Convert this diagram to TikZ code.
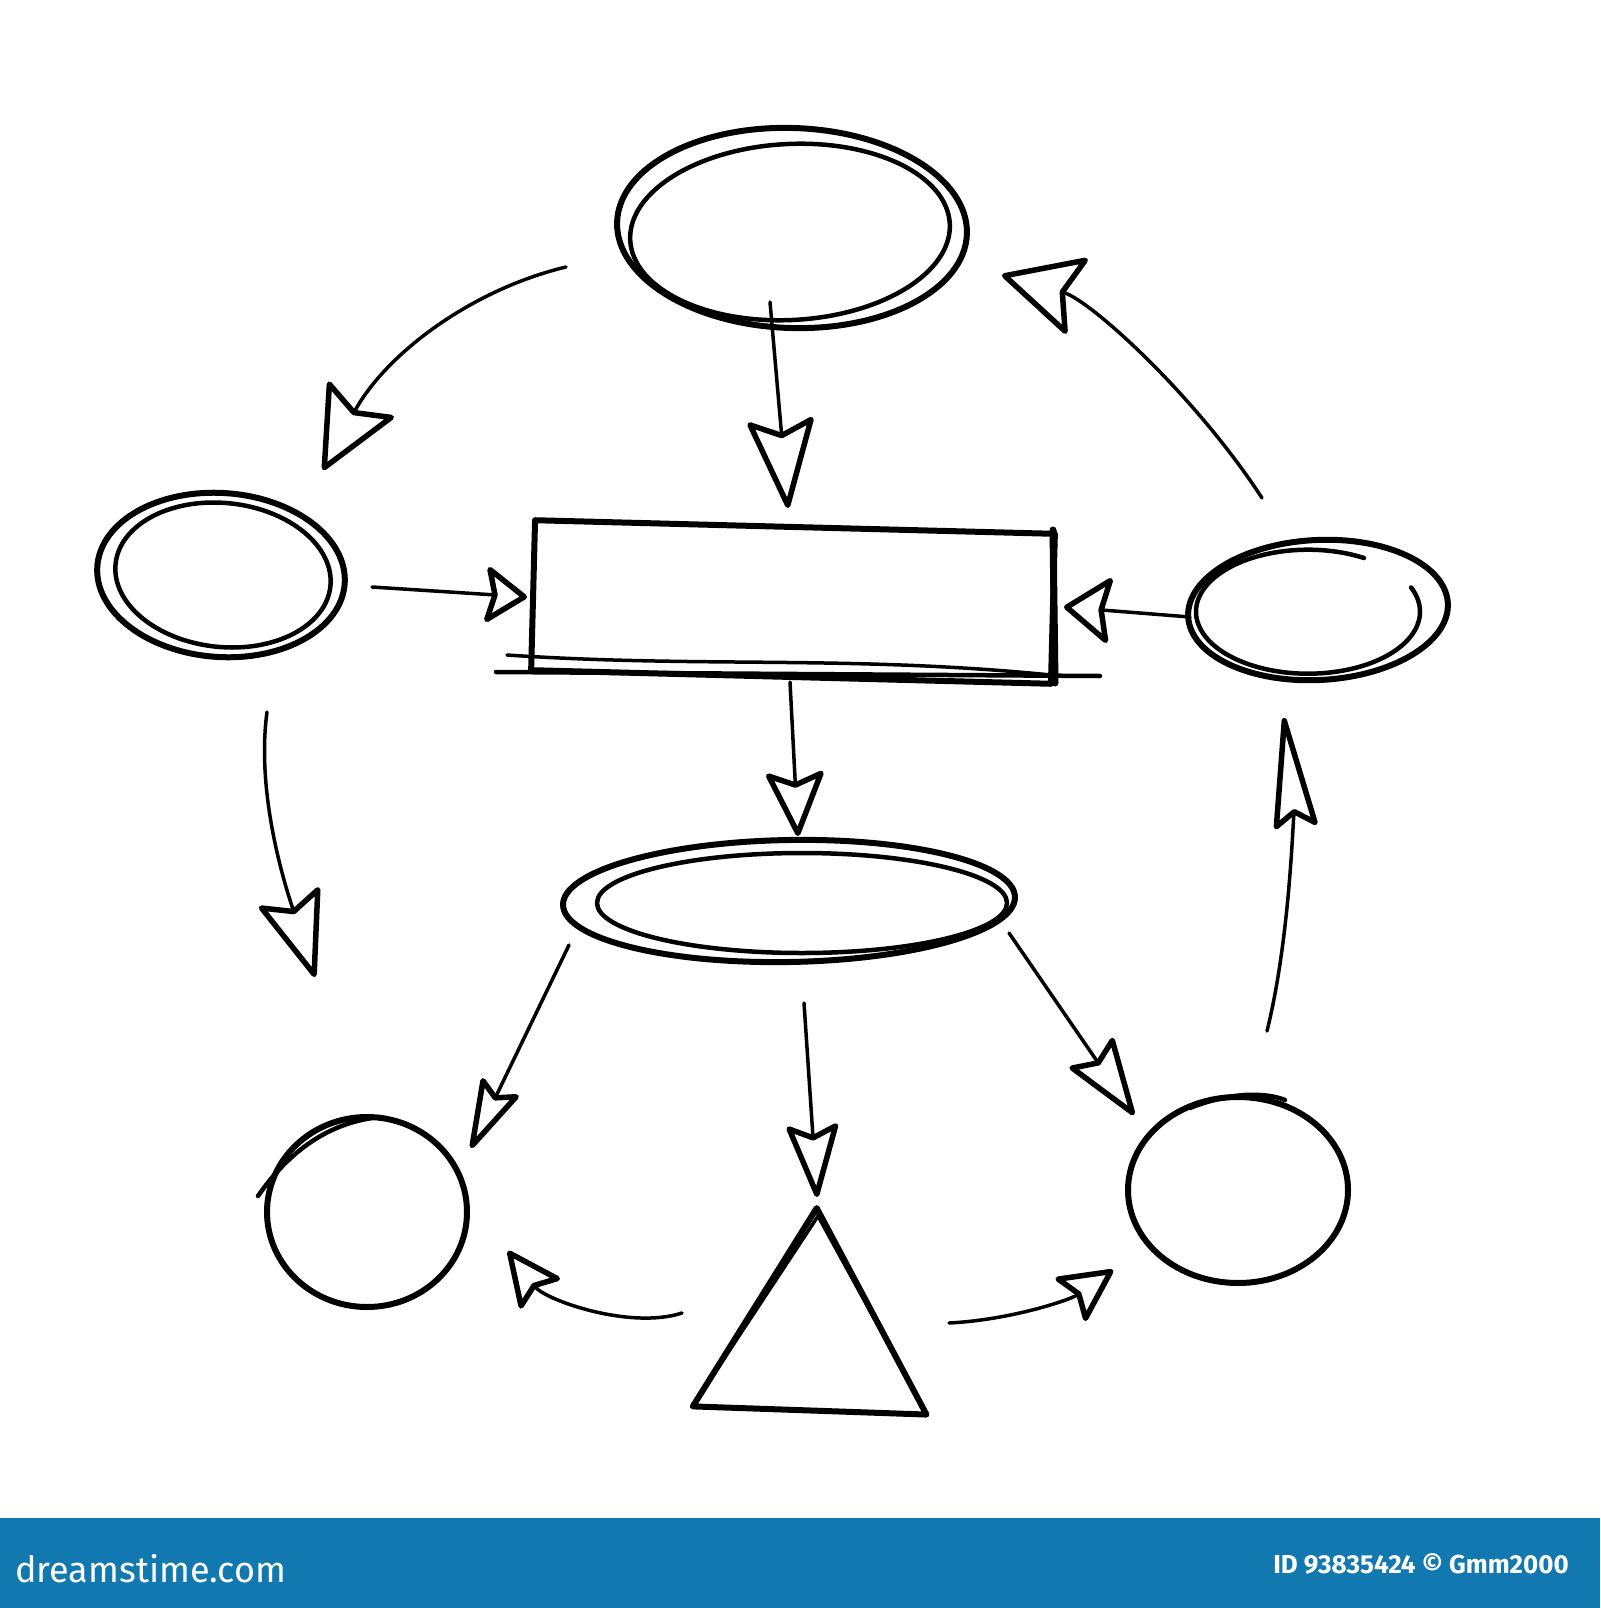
\documentclass[tikz,border=0pt]{standalone}
\usepackage{fontspec}
\usepackage{graphicx}
\setmainfont{Fira Sans}
\usetikzlibrary{shapes.geometric,arrows.meta}
\definecolor{band}{RGB}{18,120,176}
\begin{document}
\begin{tikzpicture}[x=1pt,y=-1pt,line cap=round,line join=round,
  shp/.style={draw,line width=6pt,inner sep=0pt,outer sep=0pt},
  stroke/.style={line width=4.5pt},
  conn/.style={line width=3.5pt},
  hd/.style n args={3}{-{Stealth[open,length=#1pt,width=#2pt,inset=#3pt,line width=5.5pt,round]}}]
\useasboundingbox (0,0) rectangle (1600,1608);
\fill[white] (0,0) rectangle (1600,1518);
\fill[band] (0,1518) rectangle (1600,1608);

% shapes
\node[shp,ellipse,minimum width=350pt,minimum height=200pt,rotate=-2] (top) at (792,228) {};
\draw[stroke,rotate around={3:(790,232)}] (790,232) ellipse [x radius=160,y radius=88];

\node[shp,ellipse,minimum width=248pt,minimum height=164pt,rotate=-4] (left) at (221,575) {};
\draw[stroke,rotate around={-6:(223,575)}] (223,575) ellipse [x radius=108,y radius=72];

\node[shp,ellipse,minimum width=260pt,minimum height=140pt,rotate=3] (right) at (1318,610) {};
\draw[stroke] (1364,558) arc [start angle=-60,end angle=-383,x radius=112,y radius=62];

\node[shp,rectangle,minimum width=520pt,minimum height=150pt,rotate=-1.5] (rect) at (793,602) {};
\draw[stroke] (496,672) -- (1100,676);
\draw[conn] (507,655) .. controls (700,668) and (850,655) .. (1051,675);
\draw[line width=7pt] (1053,530) -- (1055,683);

\node[shp,ellipse,minimum width=452pt,minimum height=122pt,rotate=1] (mid) at (789,901) {};
\draw[stroke] (802,903) ellipse [x radius=205,y radius=50];

\node[shp,ellipse,minimum width=200pt,minimum height=190pt] (bl) at (367,1212) {};
\draw[stroke] (258,1196) .. controls (290,1150) and (330,1122) .. (380,1117);

\node[shp,regular polygon,regular polygon sides=3,minimum size=270pt,rotate=-2] (tri) at (812,1343) {};
\draw[conn] (702,1392) -- (818,1216) -- (919,1400);

\node[shp,ellipse,minimum width=220pt,minimum height=186pt] (br) at (1238,1190) {};
\draw[stroke] (1190,1108) .. controls (1230,1092) and (1265,1092) .. (1285,1100);

% connector ends
\coordinate (a1s) at (566,267);  \coordinate (a1e) at (323,470);
\coordinate (a2s) at (770,302);  \coordinate (a2e) at (788,508);
\coordinate (a3s) at (1262,498); \coordinate (a3e) at (1002,275);
\coordinate (a4s) at (372,587);  \coordinate (a4e) at (527,597);
\coordinate (a5s) at (1190,617); \coordinate (a5e) at (1064,607);
\coordinate (a6s) at (790,682);  \coordinate (a6e) at (798,836);
\coordinate (a7s) at (267,712);  \coordinate (a7e) at (315,977);
\coordinate (a8s) at (1267,1031); \coordinate (a8e) at (1284,718);
\coordinate (a9s) at (569,945);  \coordinate (a9e) at (471,1148);
\coordinate (a10s) at (804,1003); \coordinate (a10e) at (817,1197);
\coordinate (a11s) at (1009,933); \coordinate (a11e) at (1134,1115);
\coordinate (a12s) at (682,1313); \coordinate (a12e) at (508,1251);
\coordinate (a13s) at (949,1323); \coordinate (a13e) at (1113,1270);

% connectors
\draw[conn,hd={87}{80}{15}] (a1s) .. controls (470,290) and (385,355) .. (a1e);
\draw[conn,hd={96}{70}{15}] (a2s) -- (a2e);
\draw[conn,hd={84}{84}{15}] (a3s) .. controls (1195,395) and (1090,300) .. (a3e);
\draw[conn,hd={45}{62}{8}] (a4s) -- (a4e);
\draw[conn,hd={50}{72}{8}] (a5s) -- (a5e);
\draw[conn,hd={70}{62}{12}] (a6s) -- (a6e);
\draw[conn,hd={92}{68}{15}] (a7s) .. controls (255,800) and (290,900) .. (a7e);
\draw[conn,hd={125}{46}{15}] (a8s) .. controls (1292,930) and (1293,800) .. (a8e);
\draw[conn,hd={78}{45}{12}] (a9s) -- (a9e);
\draw[conn,hd={80}{55}{12}] (a10s) -- (a10e);
\draw[conn,hd={84}{57}{12}] (a11s) -- (a11e);
\draw[conn,hd={60}{55}{10}] (a12s) .. controls (630,1330) and (545,1300) .. (a12e);
\draw[conn,hd={58}{58}{10}] (a13s) .. controls (1010,1320) and (1070,1300) .. (a13e);

% footer
\node[anchor=base west,text=white,inner sep=0pt,font=\fontsize{36}{36}\selectfont] (logo) at (15,1582) {dreamstime.com};
\node[anchor=base east,text=white,inner sep=0pt,font=\bfseries\fontsize{26}{26}\selectfont] (credit) at (1569,1573) {ID 93835424 © Gmm2000};
\end{tikzpicture}
\end{document}
